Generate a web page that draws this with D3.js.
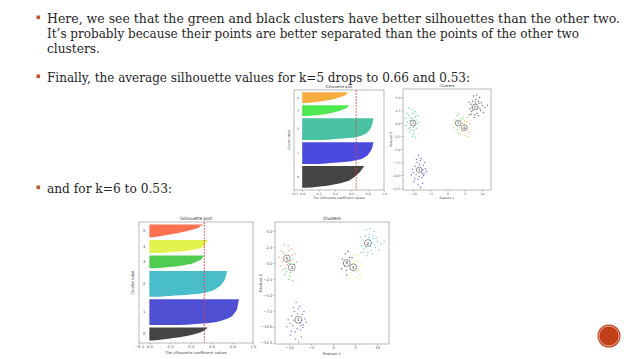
<!DOCTYPE html>
<html>
<head>
<meta charset="utf-8">
<script src="https://cdn.jsdelivr.net/npm/d3@7"></script>
<style>
body { margin: 0; background: #fff; }
</style>
</head>
<body>
<div id="slide"></div>
<script>
//slide text, one array per bullet
var bullet1 = ["Here, we see that the green and black clusters have better silhouettes than the other two.",
  "It\u2019s probably because their points are better separated than the points of the other two",
  "clusters."];
var bullet2 = ["Finally, the average silhouette values for k=5 drops to 0.66 and 0.53:"];
var bullet3 = ["and for k=6 to 0.53:"];

//silhouette values (sorted, read at 0%,10%..100% of each cluster), k=5
var sil5Sizes = [100, 100, 100, 50, 50];
var sil5Colors = ["#3a3a3a", "#4040dc", "#3fbf9f", "#46e846", "#f7a838"];
var sil5Profiles = [
  [0.05, 0.30, 0.45, 0.55, 0.60, 0.64, 0.67, 0.70, 0.72, 0.74, 0.76],
  [0.20, 0.55, 0.70, 0.76, 0.80, 0.82, 0.84, 0.85, 0.86, 0.865, 0.87],
  [0.25, 0.60, 0.72, 0.78, 0.81, 0.83, 0.845, 0.855, 0.86, 0.865, 0.87],
  [0.05, 0.20, 0.30, 0.37, 0.42, 0.46, 0.50, 0.53, 0.55, 0.56, 0.57],
  [0.05, 0.18, 0.28, 0.35, 0.41, 0.45, 0.49, 0.52, 0.54, 0.55, 0.56]
];
var sil5Avg = 0.66;

//k=6
var sil6Sizes = [50, 100, 100, 50, 50, 50];
var sil6Colors = ["#3a3a3a", "#4646d2", "#40b9c7", "#47c947", "#e0f146", "#ff6a48"];
var sil6Profiles = [
  [0.02, 0.15, 0.25, 0.33, 0.39, 0.44, 0.48, 0.51, 0.53, 0.55, 0.56],
  [0.30, 0.62, 0.72, 0.78, 0.81, 0.83, 0.845, 0.85, 0.855, 0.86, 0.865],
  [0.10, 0.45, 0.58, 0.64, 0.68, 0.70, 0.72, 0.73, 0.74, 0.745, 0.75],
  [0.05, 0.20, 0.30, 0.37, 0.42, 0.45, 0.48, 0.50, 0.51, 0.52, 0.53],
  [0.12, 0.30, 0.40, 0.46, 0.50, 0.52, 0.53, 0.54, 0.55, 0.555, 0.56],
  [0.00, 0.10, 0.18, 0.25, 0.31, 0.36, 0.41, 0.45, 0.48, 0.50, 0.52]
];
var sil6Avg = 0.53;

//cluster centres (index = cluster label)
var centers5 = [[8, 3.1], [-8.2, -9], [-10, 0], [3.1, 0], [4.8, -0.9]];
var centers6 = [[3.1, 0], [-7.9, -8.9], [7.9, 3.1], [-9.4, -0.7], [4.6, -0.7], [-10.5, 0.7]];

//data points, read roughly from the four blobs
var blobA = [[-10.3,0.8],[-9.5,-0.4],[-11.2,1.5],[-10.8,-0.9],[-9.1,0.6],[-10.0,1.9],[-11.6,0.2],[-9.7,-1.5],
  [-10.5,0.1],[-8.8,-0.2],[-11.0,-1.8],[-10.2,2.6],[-9.3,1.2],[-12.0,-0.5],[-10.7,1.0],[-9.9,-0.8],[-8.6,1.4],
  [-11.4,-1.1],[-10.1,-2.6],[-9.6,0.3],[-10.9,0.5],[-11.8,1.9],[-9.0,-1.0],[-10.4,-0.3],[-12.3,0.9],[-9.4,2.2],
  [-10.6,-1.4],[-8.3,0.1],[-11.1,2.9],[-9.8,-2.1],[-9.2,-2.8],[-10.0,-0.1]];
var blobB = [[3.2,0.3],[4.8,-0.9],[2.6,-0.5],[5.3,-1.4],[3.8,0.9],[4.4,-0.1],[2.1,0.6],[5.9,-0.6],[3.0,-1.2],
  [4.9,0.4],[3.5,-0.3],[6.2,-1.8],[2.8,1.4],[4.1,-1.6],[5.5,0.2],[3.6,-2.2],[2.4,-0.1],[4.6,-0.6],[5.1,-2.3],
  [3.3,1.8],[6.5,-0.2],[1.9,-0.9],[4.3,0.8],[5.7,-1.1],[2.9,0.0],[3.9,-0.8],[4.7,1.2],[6.0,-2.6],[3.1,-1.9],
  [5.0,-0.3],[6.3,1.6],[5.8,1.1]];
var blobC = [[7.6,3.4],[8.5,2.6],[9.1,3.8],[7.0,2.2],[8.2,4.5],[6.8,3.6],[9.6,2.4],[7.9,1.6],[8.8,3.1],
  [7.3,4.2],[10.1,3.3],[8.0,2.9],[6.4,2.7],[9.3,4.9],[7.7,1.1],[8.6,1.9],[10.4,2.0],[7.1,3.0],[9.0,4.2],
  [8.3,3.6],[6.2,4.0],[9.8,3.9],[7.5,5.2],[8.9,1.4],[7.4,2.5],[10.9,3.0],[8.1,4.0],[6.9,1.7],[9.4,2.8],
  [8.4,5.4],[11.6,3.4],[7.8,3.2]];
var blobD = [[-8.3,-8.6],[-7.5,-9.4],[-9.1,-9.9],[-7.0,-8.1],[-8.6,-10.8],[-6.8,-9.7],[-9.4,-8.3],[-7.9,-7.2],
  [-8.0,-9.2],[-9.8,-9.5],[-6.4,-8.8],[-7.4,-10.5],[-8.8,-7.6],[-7.2,-11.6],[-9.5,-10.7],[-8.1,-8.0],
  [-6.9,-10.1],[-10.2,-8.9],[-7.7,-8.7],[-8.5,-11.9],[-6.1,-9.3],[-9.0,-7.0],[-7.6,-6.8],[-8.9,-9.0],
  [-7.3,-9.8],[-10.5,-10.0],[-8.2,-10.3],[-6.6,-7.6],[-9.7,-11.3],[-7.8,-12.4],[-8.4,-6.2],[-7.1,-9.0]];

//tick values
var silTicks = [-0.1, 0.0, 0.2, 0.4, 0.6, 0.8, 1.0];
var featXTicks = [-10, -5, 0, 5, 10];
var featYTicks = [5.0, 2.5, 0.0, -2.5, -5.0, -7.5, -10.0, -12.5];

var points = blobA.concat(blobB, blobC, blobD);

//appending svg object to body
var svg = d3.select("#slide")
  .append("svg")
  .attr("width", 638)
  .attr("height", 359)
  .style("display", "block");

//slide text
var textFont = "'DejaVu Serif', serif";
function addBullet(lines, y0, widths) {
  svg.append("rect")
    .attr("x", 36.5).attr("y", y0 - 7.5)
    .attr("width", 3.6).attr("height", 3.6)
    .style("fill", "#c0562e");
  lines.forEach(function(t, i) {
    svg.append("text")
      .attr("x", 47).attr("y", y0 + i * 15)
      .attr("textLength", widths[i])
      .attr("lengthAdjust", "spacingAndGlyphs")
      .style("font-family", textFont)
      .style("font-size", "12.2px")
      .style("fill", "#262626")
      .text(t);
  });
}
addBullet(bullet1, 23, [573, 532, 53]);
addBullet(bullet2, 82, [423]);
addBullet(bullet3, 193, [125]);

//silhouette plot
function drawSilhouette(box, sizes, colors, profiles, avg, fs) {
  var g = svg.append("g");
  var total = d3.sum(sizes) + (sizes.length + 1) * 10;
  var x = d3.scaleLinear().domain([-0.1, 1.0]).range([box.left, box.right]);
  var y = d3.scaleLinear().domain([0, total]).range([box.bottom, box.top]);

  var area = d3.area()
    .x0(x(0))
    .x1(function(d) { return x(d[0]); })
    .y(function(d) { return y(d[1]); })
    .curve(d3.curveMonotoneY);

  var yLower = 10;
  sizes.forEach(function(n, i) {
    var pts = profiles[i].map(function(v, j) {
      return [v, yLower + n * j / (profiles[i].length - 1)];
    });
    g.append("path")
      .datum(pts)
      .attr("d", area)
      .style("fill", colors[i])
      .style("opacity", 0.95);
    g.append("text")
      .attr("x", x(-0.05)).attr("y", y(yLower + n / 2))
      .attr("text-anchor", "middle").attr("dy", "0.35em")
      .style("font-family", "'DejaVu Sans', sans-serif")
      .style("font-size", fs + "px").style("fill", "#444")
      .text(i);
    yLower += n + 10;
  });

  //average line
  g.append("line")
    .attr("x1", x(avg)).attr("x2", x(avg))
    .attr("y1", box.top).attr("y2", box.bottom)
    .style("stroke", "#e23b3b").style("stroke-width", 0.8)
    .style("stroke-dasharray", "2,1");

  frameAndLabels(g, box, "Silhouette plot", "The silhouette coefficient values", "Cluster label", fs);

  var ax = g.append("g")
    .attr("transform", "translate(0," + box.bottom + ")")
    .call(d3.axisBottom(x).tickValues(silTicks).tickFormat(d3.format(".1f")).tickSize(1.5).tickPadding(1));
  styleAxis(ax, fs);
}

//cluster scatter
function drawClusters(box, xDom, yDom, centers, colors, fs) {
  var g = svg.append("g");
  var x = d3.scaleLinear().domain(xDom).range([box.left, box.right]);
  var y = d3.scaleLinear().domain(yDom).range([box.bottom, box.top]);

  //label each point with its nearest centre
  var labelOf = function(p) {
    return d3.minIndex(centers, function(c) {
      return (c[0] - p[0]) * (c[0] - p[0]) + (c[1] - p[1]) * (c[1] - p[1]);
    });
  };

  g.selectAll(".pt")
    .data(points)
    .enter().append("circle")
    .attr("cx", function(d) { return x(d[0]); })
    .attr("cy", function(d) { return y(d[1]); })
    .attr("r", 0.75)
    .style("fill", function(d) { return colors[labelOf(d)]; })
    .style("opacity", 0.7);

  g.selectAll(".ctr")
    .data(centers)
    .enter().append("circle")
    .attr("cx", function(d) { return x(d[0]); })
    .attr("cy", function(d) { return y(d[1]); })
    .attr("r", fs * 0.9)
    .style("fill", "#fff")
    .style("stroke", "#333")
    .style("stroke-width", 0.5);

  g.selectAll(".ctrl")
    .data(centers)
    .enter().append("text")
    .attr("x", function(d) { return x(d[0]); })
    .attr("y", function(d) { return y(d[1]); })
    .attr("dy", "0.35em").attr("text-anchor", "middle")
    .style("font-family", "'DejaVu Sans', sans-serif")
    .style("font-size", (fs * 1.1) + "px")
    .style("fill", "#111")
    .text(function(d, i) { return i; });

  frameAndLabels(g, box, "Clusters", "Feature 1", "Feature 2", fs);

  var ax = g.append("g")
    .attr("transform", "translate(0," + box.bottom + ")")
    .call(d3.axisBottom(x).tickValues(featXTicks).tickFormat(d3.format("d")).tickSize(1.5).tickPadding(1));
  styleAxis(ax, fs);
  var ay = g.append("g")
    .attr("transform", "translate(" + box.left + ",0)")
    .call(d3.axisLeft(y).tickValues(featYTicks).tickFormat(d3.format(".1f")).tickSize(1.5).tickPadding(1));
  styleAxis(ay, fs);
}

function frameAndLabels(g, box, title, xLabel, yLabel, fs) {
  g.append("rect")
    .attr("x", box.left).attr("y", box.top)
    .attr("width", box.right - box.left).attr("height", box.bottom - box.top)
    .style("fill", "none").style("stroke", "#8a8a8a").style("stroke-width", 0.6);
  var mid = (box.left + box.right) / 2;
  g.append("text")
    .attr("x", mid).attr("y", box.top - 2).attr("text-anchor", "middle")
    .style("font-family", "'DejaVu Sans', sans-serif")
    .style("font-size", (fs * 1.15) + "px").style("fill", "#333")
    .text(title);
  g.append("text")
    .attr("x", mid).attr("y", box.bottom + fs * 2.9).attr("text-anchor", "middle")
    .style("font-family", "'DejaVu Sans', sans-serif")
    .style("font-size", fs + "px").style("fill", "#444")
    .text(xLabel);
  g.append("text")
    .attr("transform", "translate(" + (box.left - box.yLab) + "," + ((box.top + box.bottom) / 2) + ") rotate(-90)")
    .attr("text-anchor", "middle")
    .style("font-family", "'DejaVu Sans', sans-serif")
    .style("font-size", fs + "px").style("fill", "#444")
    .text(yLabel);
}

function styleAxis(a, fs) {
  a.select(".domain").remove();
  a.selectAll(".tick line").style("stroke", "#777").style("stroke-width", 0.5);
  a.selectAll(".tick text")
    .style("font-family", "'DejaVu Sans', sans-serif")
    .style("font-size", fs + "px").style("fill", "#555");
}

//k=5 pair
drawSilhouette({left: 294, right: 384, top: 90, bottom: 190, yLab: 4}, sil5Sizes, sil5Colors, sil5Profiles, sil5Avg, 3.2);
drawClusters({left: 403, right: 491, top: 89, bottom: 190, yLab: 11}, [-12.9, 12.6], [-12.88, 6.54], centers5, sil5Colors, 3.2);

//k=6 pair
drawSilhouette({left: 139, right: 253, top: 222, bottom: 343, yLab: 5}, sil6Sizes, sil6Colors, sil6Profiles, sil6Avg, 3.8);
drawClusters({left: 275, right: 389, top: 222, bottom: 344, yLab: 13}, [-13.2, 12.7], [-12.7, 6.4], centers6, sil6Colors, 3.8);

//page marker
svg.append("circle")
  .attr("cx", 609).attr("cy", 336).attr("r", 11.5)
  .style("fill", "#c1401a");
svg.append("circle")
  .attr("cx", 609).attr("cy", 336).attr("r", 10)
  .style("fill", "none").style("stroke", "#f3d5c8").style("stroke-width", 0.7);
</script>
</body>
</html>
